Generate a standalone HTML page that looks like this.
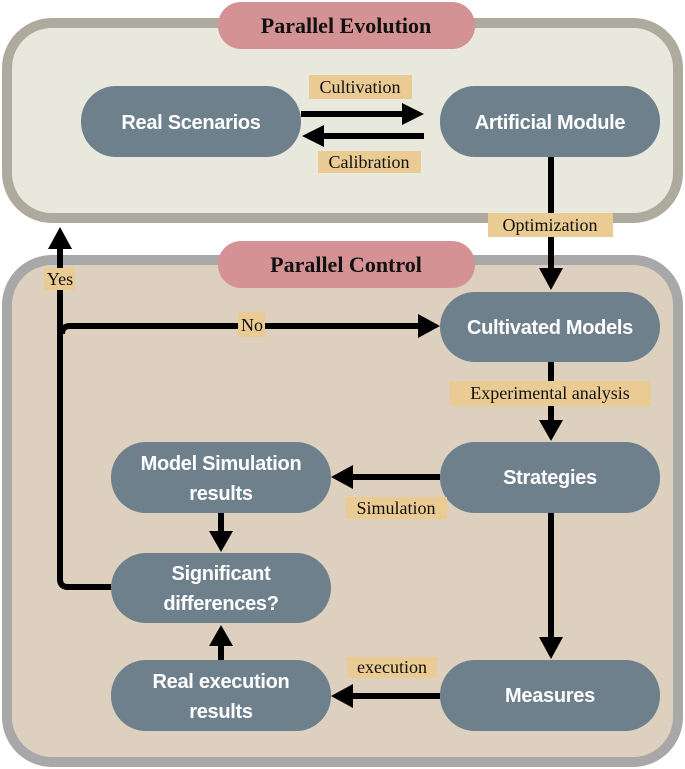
<!DOCTYPE html>
<html><head><meta charset="utf-8"><style>
html,body{margin:0;padding:0;background:#fff;}
svg{display:block;}
.n{font-family:"Liberation Sans",sans-serif;font-weight:bold;font-size:20px;fill:#fff;text-anchor:middle;letter-spacing:-0.3px;}
.l{font-family:"Liberation Serif",serif;font-size:18px;fill:#111;text-anchor:middle;}
.t{font-family:"Liberation Serif",serif;font-weight:bold;font-size:22px;fill:#111;text-anchor:middle;}
</style></head><body>
<svg width="685" height="769" viewBox="0 0 685 769" xmlns="http://www.w3.org/2000/svg">
<rect x="7" y="23" width="671" height="195" rx="45" fill="#e8e8dc" stroke="#aeaa9e" stroke-width="10"/>
<rect x="7" y="260" width="671" height="502" rx="45" fill="#ddd0bf" stroke="#a8a8a8" stroke-width="10"/>
<rect x="218" y="2" width="257" height="47" rx="23" fill="#d49294"/>
<text class="t" x="346" y="33">Parallel Evolution</text>
<rect x="218" y="241" width="257" height="47" rx="23" fill="#d49294"/>
<text class="t" x="346" y="272">Parallel Control</text>
<g fill="#6f808d">
<rect x="81" y="86" width="220" height="71" rx="35"/>
<rect x="440" y="86" width="220" height="71" rx="35"/>
<rect x="440" y="292" width="220" height="70" rx="35"/>
<rect x="440" y="442" width="220" height="71" rx="35"/>
<rect x="111" y="442" width="220" height="71" rx="35"/>
<rect x="111" y="553" width="220" height="70" rx="35"/>
<rect x="111" y="660" width="220" height="71" rx="35"/>
<rect x="440" y="660" width="220" height="71" rx="35"/>
</g>
<text class="n" x="191" y="129">Real Scenarios</text>
<text class="n" x="550" y="129">Artificial Module</text>
<text class="n" x="550" y="334">Cultivated Models</text>
<text class="n" x="550" y="484">Strategies</text>
<text class="n" x="221" y="470">Model Simulation</text>
<text class="n" x="221" y="500">results</text>
<text class="n" x="221" y="580">Significant</text>
<text class="n" x="221" y="610">differences?</text>
<text class="n" x="221" y="688">Real execution</text>
<text class="n" x="221" y="718">results</text>
<text class="n" x="550" y="702">Measures</text>
<g stroke="#000" stroke-width="6" fill="none">
<line x1="301" y1="114" x2="402" y2="114"/>
<line x1="424" y1="136" x2="324" y2="136"/>
<line x1="551" y1="157" x2="551" y2="268"/>
<line x1="551" y1="362" x2="551" y2="420"/>
<line x1="551" y1="513" x2="551" y2="637"/>
<line x1="440" y1="477" x2="353" y2="477"/>
<line x1="440" y1="696" x2="353" y2="696"/>
<line x1="221" y1="513" x2="221" y2="531"/>
<line x1="221" y1="660" x2="221" y2="646"/>
<path d="M111,587 L68,587 Q60,587 60,579 L60,249"/>
<path d="M62,334 Q62,326 70,326 L418,326"/>
</g>
<g fill="#000">
<polygon points="402,103 424,114 402,125"/>
<polygon points="324,125 302,136 324,147"/>
<polygon points="539,268 551,290 563,268"/>
<polygon points="539,420 551,441 563,420"/>
<polygon points="539,637 551,659 563,637"/>
<polygon points="353,465 331,477 353,489"/>
<polygon points="353,684 331,696 353,708"/>
<polygon points="209,531 221,552 233,531"/>
<polygon points="209,646 221,625 233,646"/>
<polygon points="48,249 60,227 72,249"/>
<polygon points="418,314 440,326 418,338"/>
</g>
<g fill="#e9cb93">
<rect x="309" y="75" width="103" height="24"/>
<rect x="318" y="151" width="103" height="22"/>
<rect x="488" y="213" width="125" height="24"/>
<rect x="44" y="268" width="31" height="22"/>
<rect x="238" y="312" width="27" height="25"/>
<rect x="450" y="381" width="201" height="25"/>
<rect x="346" y="497" width="101" height="22"/>
<rect x="347" y="657" width="90" height="21"/>
</g>
<text class="l" x="360" y="93">Cultivation</text>
<text class="l" x="369" y="168">Calibration</text>
<text class="l" x="550" y="231">Optimization</text>
<text class="l" x="60" y="285">Yes</text>
<text class="l" x="252" y="331">No</text>
<text class="l" x="550" y="399">Experimental analysis</text>
<text class="l" x="396" y="514">Simulation</text>
<text class="l" x="392" y="673">execution</text>
</svg>
</body></html>
